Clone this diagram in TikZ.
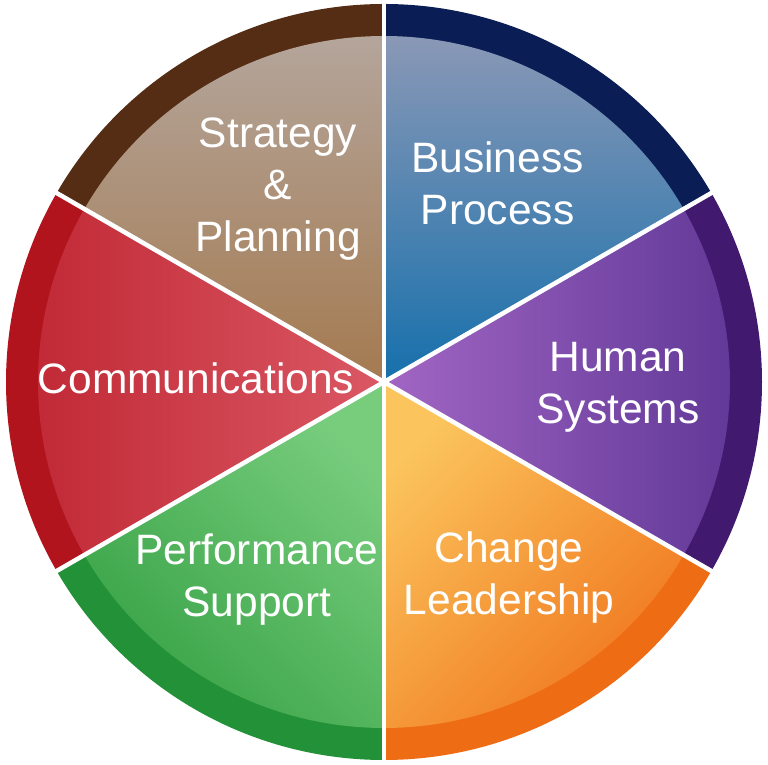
\documentclass[tikz,border=0pt]{standalone}
\usepackage{fontspec}
\setmainfont{Liberation Sans}
\definecolor{bpRim}{RGB}{10,30,85}
\definecolor{bpTop}{RGB}{138,152,182}
\definecolor{bpBot}{RGB}{22,112,172}
\definecolor{spRim}{RGB}{85,45,20}
\definecolor{spTop}{RGB}{180,165,155}
\definecolor{spBot}{RGB}{164,122,80}
\definecolor{cmRim}{RGB}{178,20,30}
\definecolor{cmOut}{RGB}{192,40,52}
\definecolor{cmIn}{RGB}{218,88,100}
\definecolor{psRim}{RGB}{35,145,55}
\definecolor{psOut}{RGB}{55,162,70}
\definecolor{psIn}{RGB}{120,205,125}
\definecolor{clRim}{RGB}{238,108,20}
\definecolor{clOut}{RGB}{240,118,30}
\definecolor{clIn}{RGB}{251,196,92}
\definecolor{hsRim}{RGB}{65,25,110}
\definecolor{hsOut}{RGB}{95,55,150}
\definecolor{hsIn}{RGB}{162,102,196}
\begin{document}
\begin{tikzpicture}[x=1pt,y=1pt,
  lbl/.style={text=white, align=center, anchor=north, inner sep=0pt,
    font=\fontsize{42.5}{52}\selectfont},
  sep/.style={draw=white, line width=4.5pt}]
\useasboundingbox (0,0) rectangle (768,765);
\begin{scope}[shift={(384,383)}]
  \coordinate (c) at (0,0);
  % rims
  \fill[bpRim] (c) -- (30:378) arc[start angle=30, end angle=90, radius=378] -- cycle;
  \fill[spRim] (c) -- (90:378) arc[start angle=90, end angle=150, radius=378] -- cycle;
  \fill[cmRim] (c) -- (150:378) arc[start angle=150, end angle=210, radius=378] -- cycle;
  \fill[psRim] (c) -- (210:378) arc[start angle=210, end angle=270, radius=378] -- cycle;
  \fill[clRim] (c) -- (270:378) arc[start angle=270, end angle=330, radius=378] -- cycle;
  \fill[hsRim] (c) -- (330:378) arc[start angle=330, end angle=390, radius=378] -- cycle;
  % inner glossy regions
  \shade[top color=bpTop, bottom color=bpBot] (c) -- (30:346) arc[start angle=30, end angle=90, radius=346] -- cycle;
  \shade[top color=spTop, bottom color=spBot] (c) -- (90:346) arc[start angle=90, end angle=150, radius=346] -- cycle;
  \shade[left color=cmOut, right color=cmIn] (c) -- (150:346) arc[start angle=150, end angle=210, radius=346] -- cycle;
  \shade[top color=psIn, bottom color=psOut, shading angle=-45] (c) -- (210:346) arc[start angle=210, end angle=270, radius=346] -- cycle;
  \shade[top color=clIn, bottom color=clOut, shading angle=45] (c) -- (270:346) arc[start angle=270, end angle=330, radius=346] -- cycle;
  \shade[left color=hsIn, right color=hsOut] (c) -- (330:346) arc[start angle=330, end angle=390, radius=346] -- cycle;
  % separators
  \foreach \a in {30,90,150,210,270,330} {
    \coordinate (e\a) at (\a:382);
    \draw[sep] (c) -- (e\a);
  }
\end{scope}
\node[lbl] (strategy) at (278,647) {Strategy\\\&\\Planning};
\node[lbl] (business) at (497.5,623) {Business\\Process};
\node[lbl] (human) at (618,423) {Human\\Systems};
\node[lbl] (comm) at (196,402) {Communications};
\node[lbl] (perf) at (257,231) {Performance\\Support};
\node[lbl] (change) at (509,233) {Change\\Leadership};
\end{tikzpicture}
\end{document}
